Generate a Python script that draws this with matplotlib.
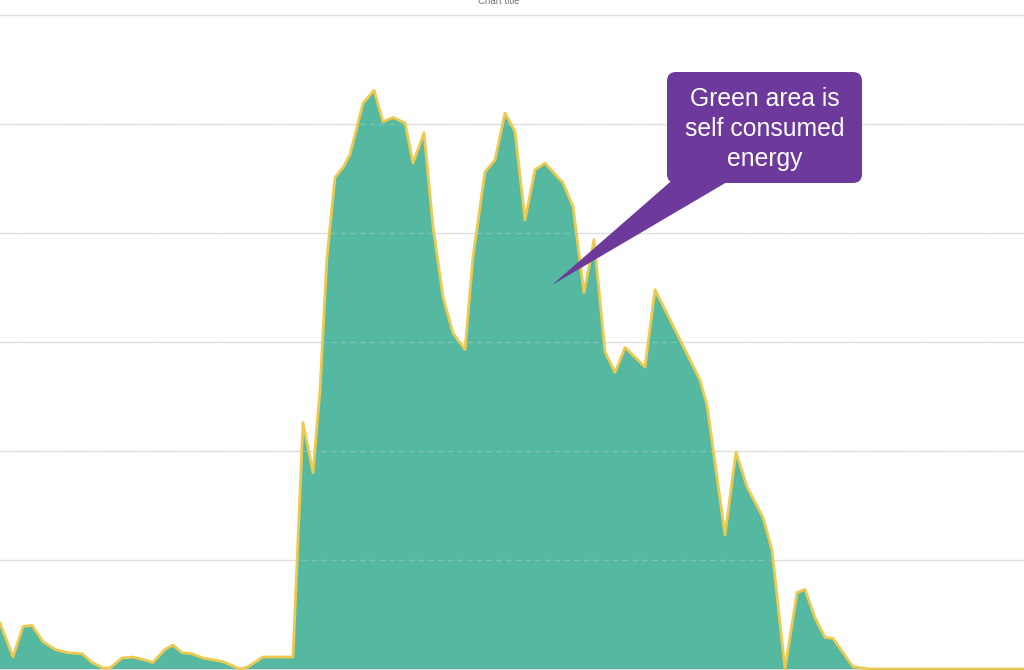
import matplotlib
matplotlib.use('Agg')
import matplotlib.pyplot as plt
from matplotlib.patches import FancyBboxPatch, Polygon

# time axis (sample positions) and self consumed power (kW)
t = [0, 13, 23, 32, 43, 55, 67, 82, 92, 103, 110, 122, 133, 142, 153, 165, 173, 182,
     192, 203, 222, 230, 240, 248, 263, 293, 303, 313, 320, 327, 335, 343, 350, 363,
     374, 383, 393, 405, 413, 424, 433, 443, 453, 465, 473, 485, 495, 505, 515, 525,
     535, 545, 563, 573, 584, 594, 605, 615, 625, 645, 655, 680, 700, 707, 725, 736,
     747, 763, 772, 785, 797, 805, 815, 825, 833, 853, 870, 1024]
power = [0.42, 0.11, 0.39, 0.40, 0.25, 0.18, 0.15, 0.14, 0.06, 0.01, 0.01, 0.10, 0.11,
         0.09, 0.06, 0.18, 0.22, 0.15, 0.14, 0.10, 0.07, 0.04, 0.00, 0.02, 0.11, 0.11,
         2.26, 1.80, 2.56, 3.78, 4.51, 4.60, 4.72, 5.19, 5.31, 5.02, 5.06, 5.01, 4.64,
         4.92, 4.06, 3.41, 3.08, 2.93, 3.78, 4.56, 4.67, 5.10, 4.93, 4.12, 4.58, 4.64,
         4.46, 4.24, 3.45, 3.94, 2.91, 2.72, 2.95, 2.77, 3.48, 3.02, 2.65, 2.42, 1.23,
         1.99, 1.67, 1.39, 1.09, 0.00, 0.70, 0.73, 0.47, 0.29, 0.28, 0.02, 0.00, 0.00]
grid_values = [0, 1, 2, 3, 4, 5, 6]

title = 'Chart title'
note = 'Green area is\nself consumed\nenergy'

fig = plt.figure(figsize=(10.24, 6.70), dpi=100)
ax = fig.add_axes([0, 0, 1, 1])
ax.set_xlim(0, 1024)
ax.set_ylim(-1 / 109, 669 / 109)
for s in ax.spines.values():
    s.set_visible(False)
ax.set_xticks([])
ax.set_yticks([])

for g in grid_values:
    ax.axhline(g, color='#dcdcdc', lw=1, zorder=1)

ax.fill_between(t, power, 0, color='#55b8a1', lw=0, zorder=2)
for g in grid_values[1:]:
    ax.axhline(g, color='white', lw=1, alpha=0.2, ls=(0, (4, 3)), zorder=3)
ax.plot(t, power, color='#edc94f', lw=2, solid_joinstyle='round', zorder=4)

fig.text(499 / 1024, 1 - 1 / 670, title, ha='center', va='center', fontsize=7,
         color='#777777', family='Liberation Sans')

# callout overlay in pixel coordinates
ov = fig.add_axes([0, 0, 1, 1])
ov.set_xlim(0, 1024)
ov.set_ylim(670, 0)
ov.axis('off')
purple = '#6d3a9c'
ov.add_patch(Polygon([(677, 176), (727, 182), (552, 285)], closed=True,
                     color=purple, lw=0))
ov.add_patch(FancyBboxPatch((667, 72), 195, 111,
                            boxstyle='round,pad=0,rounding_size=9',
                            color=purple, lw=0))
ov.text(764.5, 129, note, ha='center', va='center', color='white',
        fontsize=17.8, family='Liberation Sans', linespacing=1.33)

plt.savefig('out.png', dpi=100)
